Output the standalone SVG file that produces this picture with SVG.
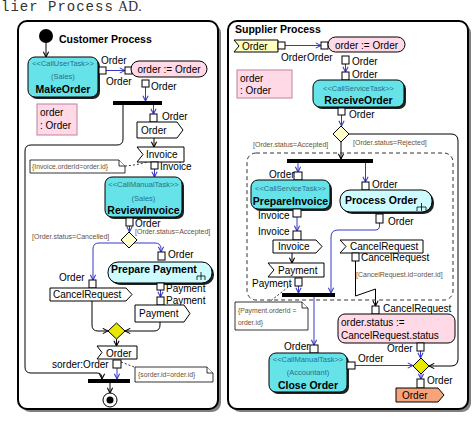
<svg xmlns="http://www.w3.org/2000/svg" width="474" height="429" viewBox="0 0 474 429">
<style>
.t{font-family:"Liberation Sans",Arial,sans-serif;font-size:10px;fill:#000}
.tb{font-family:"Liberation Sans",Arial,sans-serif;font-size:10.5px;font-weight:bold;fill:#000}
.st{font-family:"Liberation Sans",Arial,sans-serif;font-size:7.5px;fill:#2b7088}
.g{font-family:"Liberation Sans",Arial,sans-serif;font-size:7px;fill:#6a5238}
.n{font-family:"Liberation Sans",Arial,sans-serif;font-size:6.8px;fill:#6a5238}
.panel{fill:#fff;stroke:#000;stroke-width:2}
.pshadow{fill:#808080}
.ashadow{fill:#222}
.act{fill:#66e3e8;stroke:#000;stroke-width:1}
.lact{fill:#ccfcff;stroke:#000;stroke-width:1}
.pink{fill:#ffd9e6;stroke:#000;stroke-width:1}
.obj{fill:#ffd9e6;stroke:#c080a0;stroke-width:1}
.sig{fill:#fff;stroke:#000;stroke-width:1}
.pin{fill:#fff;stroke:#000;stroke-width:1}
.dec{fill:#ffffcc;stroke:#000;stroke-width:1}
.mrg{fill:#e8e800;stroke:#000;stroke-width:1}
.bar{fill:#000}
.note{fill:#fff;stroke:#000;stroke-width:0.8}
.flow{fill:none;stroke:#3838c8;stroke-width:1;marker-end:url(#ab)}
.ctl{fill:none;stroke:#000;stroke-width:1;marker-end:url(#ak)}
.dsh{fill:none;stroke:#000;stroke-width:0.8;stroke-dasharray:2,2}
.region{fill:none;stroke:#333;stroke-width:1;stroke-dasharray:4,3}
.c{text-anchor:middle}
</style>
<defs>
<marker id="ab" viewBox="0 0 8 8" refX="7" refY="4" markerWidth="7" markerHeight="7" markerUnits="userSpaceOnUse" orient="auto"><path d="M1,1 L7,4 L1,7" fill="none" stroke="#3838c8" stroke-width="1.2"/></marker>
<marker id="ak" viewBox="0 0 8 8" refX="7" refY="4" markerWidth="7" markerHeight="7" markerUnits="userSpaceOnUse" orient="auto"><path d="M1,1 L7,4 L1,7" fill="none" stroke="#000" stroke-width="1.2"/></marker>
</defs>
<rect width="474" height="429" fill="#fff"/>
<text x="1" y="11" font-family="Liberation Mono,monospace" font-size="14" letter-spacing="1" fill="#333">lier Process</text>
<text x="118" y="11" font-family="Liberation Serif,serif" font-size="14" fill="#333">AD.</text>

<g id="customer-panel">
<rect class="pshadow" x="21" y="24" width="200" height="388" rx="9"/>
<rect class="panel" x="18" y="21" width="200" height="388" rx="9"/>
<text class="tb" x="59" y="43">Customer Process</text>
</g>
<g id="supplier-panel">
<rect class="pshadow" x="231" y="24" width="240" height="388" rx="9"/>
<rect class="panel" x="228" y="21" width="240" height="388" rx="9"/>
<text class="tb" x="235" y="33">Supplier Process</text>
</g>

<g id="connectors">
<path class="ctl" d="M46,43 L46,57"/>
<path class="flow" d="M106,70.5 L125,70.5"/>
<path class="flow" d="M145.5,87 L145.5,101"/>
<path class="flow" d="M153.5,105 L153.5,114"/>
<path class="ctl" d="M154,138 L154,147"/>
<path class="flow" d="M154.5,169 L154.5,177"/>
<path class="dsh" d="M125,166 Q138,165 151,161"/>
<path class="flow" d="M129.5,226 L129.5,232"/>
<path class="flow" d="M124,243 L99,243 Q93,243 93,249 L93,280"/>
<path class="flow" d="M134,243 L155,243 Q161,243 161,249 L161,252"/>
<path class="flow" d="M160.5,290 L160.5,297"/>
<path class="ctl" d="M92,301 L92,325 Q92,331 98,331 L108,331"/>
<path class="ctl" d="M160,322 L160,325 Q160,331 154,331 L125,331"/>
<path class="ctl" d="M116.5,339 L116.5,346"/>
<path class="dsh" d="M121,362 L137,368"/>
<path class="flow" d="M117,368 L117,379"/>
<path class="ctl" d="M110,383 L110,393"/>
<path class="ctl" d="M123,105 L123,139 Q123,145 117,145 L31,145 Q25,145 25,151 L25,367 Q25,373 31,373 L97,373 Q102,373 102,378 L102,379"/>

<path class="flow" d="M285,45.5 L321,45.5"/>
<path class="flow" d="M345.5,64 L345.5,72"/>
<path class="flow" d="M341.5,115 L341.5,126"/>
<path class="ctl" d="M349,134 L451,134 Q458,134 458,141 L458,359 Q458,366 451,366 L429,366"/>
<path class="ctl" d="M341,142 L341,159"/>
<path class="flow" d="M298,163 L298,172"/>
<path class="flow" d="M365.5,163 L365.5,182"/>
<path class="flow" d="M297,217 L297,231"/>
<path class="ctl" d="M292,253 L292,263"/>
<path class="flow" d="M298.5,286 L298.5,293"/>
<path class="flow" d="M379.5,223 L379.5,226 Q379.5,230 375,230 L338,230 Q331,230 331,237 L331,293"/>
<path class="ctl" d="M355.5,261 L355.5,296 L375.5,289 L375.5,306"/>
<path class="flow" d="M314,297 L314,345"/>
<path class="flow" d="M420.5,351 L420.5,358"/>
<path class="flow" d="M355,365.5 L413,365.5"/>
<path class="flow" d="M421,374 L421,379"/>
<path class="dsh" d="M268,303 L292,284"/>
</g>

<g id="initial"><circle cx="46" cy="36" r="7" fill="#000"/></g>

<g id="make-order">
<rect class="ashadow" x="30" y="59" width="70" height="40" rx="7"/>
<rect class="act" x="28" y="57" width="70" height="40" rx="7"/>
<text class="st c" x="63" y="66">&lt;&lt;CallUserTask&gt;&gt;</text>
<text class="st c" x="63" y="79">(Sales)</text>
<text class="tb c" x="63" y="93">MakeOrder</text>
<rect class="pin" x="99" y="67" width="7" height="7"/>
<text class="t" x="101" y="64">Order</text>
<text class="t" x="106" y="85">Order</text>
</g>

<g id="assign-order-c">
<rect class="pin" x="125" y="67" width="7" height="7"/>
<rect class="pink" x="131" y="61" width="76" height="16" rx="8"/>
<text class="t c" x="169" y="73">order := Order</text>
<rect class="pin" x="142" y="80" width="7" height="7"/>
<text class="t" x="151" y="90">Order</text>
</g>

<g id="var-order-c">
<rect class="obj" x="37" y="104" width="40" height="31"/>
<text class="t" x="40" y="116">order</text>
<text class="t" x="40" y="129">: Order</text>
</g>

<g id="fork-c"><rect class="bar" x="113" y="101" width="49" height="4"/></g>

<g id="send-order">
<rect class="pin" x="150" y="114" width="7" height="8"/>
<text class="t" x="162" y="120">Order</text>
<polygon class="sig" points="137,122 177,122 183,130 177,138 137,138"/>
<text class="t" x="141" y="134">Order</text>
</g>

<g id="recv-invoice">
<polygon class="sig" points="137,147 184,147 184,162 137,162 143,154.5"/>
<text class="t" x="146" y="158">Invoice</text>
<rect class="pin" x="151" y="162" width="7" height="7"/>
<text class="t" x="160" y="170">Invoice</text>
</g>

<g id="note-invoice">
<polygon class="note" points="30,160 119,160 125,166 125,173 30,173"/>
<path class="note" d="M119,160 L119,166 L125,166" fill="none"/>
<text class="n" x="32" y="169">{Invoice.orderId=order.id}</text>
</g>

<g id="review-invoice">
<rect class="ashadow" x="107" y="179" width="77" height="40" rx="7"/>
<rect class="act" x="105" y="177" width="77" height="40" rx="7"/>
<text class="st c" x="143.5" y="187">&lt;&lt;CallManualTask&gt;&gt;</text>
<text class="st c" x="143.5" y="201">(Sales)</text>
<text class="tb c" x="143.5" y="214">ReviewInvoice</text>
<rect class="pin" x="126" y="218" width="7" height="8"/>
<text class="t" x="135" y="227">Order</text>
</g>

<g id="decision-c">
<polygon class="dec" points="129,232 137,240 129,248 121,240"/>
<text class="g" x="32" y="239">[Order.status=Cancelled]</text>
<text class="g" x="135" y="234">[Order.status=Accepted]</text>
</g>

<g id="prepare-payment">
<rect class="pin" x="158" y="252" width="7" height="8"/>
<text class="t" x="168" y="258">Order</text>
<rect class="ashadow" x="110" y="264" width="104" height="21" rx="10"/>
<rect class="lact" x="108" y="262" width="104" height="21" rx="10"/>
<text class="tb" x="111" y="273">Prepare Payment</text>
<path d="M197,276 L205,276 M201,272 L201,280 M197,276 L197,280 M205,276 L205,280" fill="none" stroke="#000" stroke-width="0.8"/>
<rect class="pin" x="157" y="283" width="7" height="7"/>
<text class="t" x="166" y="292">Payment</text>
</g>

<g id="send-payment">
<rect class="pin" x="157" y="297" width="7" height="8"/>
<text class="t" x="166" y="304">Payment</text>
<polygon class="sig" points="135,305 184,305 190,313.5 184,322 135,322"/>
<text class="t" x="139" y="317">Payment</text>
</g>

<g id="send-cancel">
<rect class="pin" x="89" y="280" width="7" height="8"/>
<text class="t" x="59" y="281">Order</text>
<polygon class="sig" points="50,288 126,288 132,294.5 126,301 50,301"/>
<text class="t" x="53" y="298">CancelRequest</text>
</g>

<g id="merge-c"><polygon class="mrg" points="116.5,323 125,331 116.5,339 108,331"/></g>

<g id="recv-order-c">
<polygon class="sig" points="97,346 137,346 137,359 97,359 102,352.5"/>
<text class="t" x="106" y="357">Order</text>
<rect class="pin" x="113" y="360" width="8" height="8"/>
<text class="t" x="52" y="368">sorder:Order</text>
</g>

<g id="note-sorder">
<polygon class="note" points="135,367 207,367 213,373 213,382 135,382"/>
<path class="note" d="M207,367 L207,373 L213,373" fill="none"/>
<text class="n" x="138" y="377">{sorder.id=order.id}</text>
</g>

<g id="join-c"><rect class="bar" x="88" y="379" width="42" height="4"/></g>

<g id="final"><circle cx="110" cy="400" r="7" fill="#fff" stroke="#000" stroke-width="1"/><circle cx="110" cy="400" r="3.5" fill="#000"/></g>

<g id="recv-order-s">
<polygon points="234,40 278,40 278,52 234,52 239,46" fill="#ffffc0" stroke="#000" stroke-width="1"/>
<text class="t" x="242" y="50">Order</text>
<rect class="pin" x="278" y="42" width="7" height="7"/>
<text class="t" x="281" y="61">Order</text>
</g>

<g id="assign-order-s">
<rect class="pin" x="321" y="42" width="7" height="7"/>
<text class="t" x="307" y="61">Order</text>
<rect class="pink" x="328" y="37" width="77" height="15" rx="7.5"/>
<text class="t c" x="366.5" y="48.5">order := Order</text>
<rect class="pin" x="342" y="56" width="7" height="8"/>
<text class="t" x="352" y="65">Order</text>
</g>

<g id="var-order-s">
<rect class="obj" x="237" y="70" width="55" height="28"/>
<text class="t" x="240" y="82">order</text>
<text class="t" x="240" y="94">: Order</text>
</g>

<g id="receive-order">
<rect class="pin" x="342" y="72" width="7" height="8"/>
<text class="t" x="352" y="78">Order</text>
<rect class="ashadow" x="315" y="82" width="91" height="27" rx="7"/>
<rect class="act" x="313" y="80" width="91" height="27" rx="7"/>
<text class="st c" x="358.5" y="91">&lt;&lt;CallServiceTask&gt;&gt;</text>
<text class="tb c" x="358.5" y="104">ReceiveOrder</text>
<rect class="pin" x="338" y="108" width="7" height="7"/>
<text class="t" x="349" y="118">Order</text>
</g>

<g id="decision-s">
<polygon class="dec" points="341,126 349,134 341,142 333,134"/>
<text class="g" x="253" y="147">[Order.status=Accepted]</text>
<text class="g" x="353" y="145">[Order.status=Rejected]</text>
</g>

<g id="interrupt-region"><rect class="region" x="247" y="153" width="206" height="147" rx="9"/></g>

<g id="fork-s"><rect class="bar" x="287" y="159" width="86" height="4"/></g>

<g id="prepare-invoice">
<rect class="pin" x="294" y="172" width="8" height="8"/>
<text class="t" x="269" y="178">Order</text>
<rect class="ashadow" x="253" y="182" width="79" height="29" rx="7"/>
<rect class="act" x="251" y="180" width="79" height="29" rx="7"/>
<text class="st c" x="290.5" y="191">&lt;&lt;CallServiceTask&gt;&gt;</text>
<text class="tb c" x="290.5" y="205">PrepareInvoice</text>
<rect class="pin" x="293" y="209" width="8" height="8"/>
<text class="t" x="258" y="219">Invoice</text>
</g>

<g id="send-invoice">
<rect class="pin" x="293" y="231" width="8" height="9"/>
<text class="t" x="258" y="235">Invoice</text>
<polygon class="sig" points="273,240 316,240 322,246.5 316,253 273,253"/>
<text class="t" x="278" y="250">Invoice</text>
</g>

<g id="recv-payment">
<polygon class="sig" points="268,263 324,263 324,277 268,277 274,270"/>
<text class="t" x="278" y="274">Payment</text>
<rect class="pin" x="295" y="278" width="7" height="8"/>
<text class="t" x="252" y="287">Payment</text>
</g>

<g id="process-order">
<rect class="pin" x="362" y="182" width="7" height="8"/>
<text class="t" x="372" y="188">Order</text>
<rect class="ashadow" x="342" y="192" width="92" height="22" rx="10"/>
<rect class="lact" x="340" y="190" width="92" height="22" rx="10"/>
<text class="tb" x="345" y="204">Process Order</text>
<path d="M417,207 L426,207 M421.5,203 L421.5,211 M417,207 L417,211 M426,207 L426,211" fill="none" stroke="#000" stroke-width="0.8"/>
<rect class="pin" x="376" y="214" width="7" height="9"/>
<text class="t" x="388" y="225">Order</text>
</g>

<g id="recv-cancel">
<polygon class="sig" points="340,240 423,240 423,253 340,253 346,246.5"/>
<text class="t" x="350" y="250">CancelRequest</text>
<rect class="pin" x="352" y="253" width="7" height="8"/>
<text class="t" x="361" y="261">CancelRequest</text>
<text class="g" x="356" y="277">[CancelRequest.id=order.id]</text>
</g>

<g id="join-s"><rect class="bar" x="282" y="293" width="53" height="4"/></g>

<g id="note-payment">
<polygon class="note" points="235,302 302,302 308,308 308,330 235,330"/>
<path class="note" d="M302,302 L302,308 L308,308" fill="none"/>
<text class="n" x="238" y="313">{Payment.orderId =</text>
<text class="n" x="238" y="325">order.id}</text>
</g>

<g id="assign-status">
<rect class="pin" x="372" y="306" width="7" height="8"/>
<text class="t" x="383" y="312">CancelRequest</text>
<rect class="pink" x="338" y="314" width="117" height="29" rx="7"/>
<text class="t" x="341" y="326">order.status :=</text>
<text class="t" x="341" y="339">CancelRequest.status</text>
<rect class="pin" x="417" y="343" width="7" height="8"/>
<text class="t" x="387" y="352">Order</text>
</g>

<g id="close-order">
<rect class="pin" x="310" y="345" width="8" height="8"/>
<text class="t" x="284" y="350">Order</text>
<rect class="ashadow" x="271" y="355" width="78" height="39" rx="7"/>
<rect class="act" x="269" y="353" width="78" height="39" rx="7"/>
<text class="st c" x="308" y="362">&lt;&lt;CallManualTask&gt;&gt;</text>
<text class="st c" x="308" y="375">(Accountant)</text>
<text class="tb c" x="308" y="389">Close Order</text>
<rect class="pin" x="347" y="362" width="8" height="7"/>
<text class="t" x="358" y="362">Order</text>
</g>

<g id="merge-s"><polygon class="mrg" points="421,358 429,366 421,374 413,366"/></g>

<g id="send-order-s">
<rect class="pin" x="417" y="379" width="7" height="9"/>
<text class="t" x="427" y="384">Order</text>
<polygon points="396,388 438,388 444,395 438,402 396,402" fill="#f7a47c" stroke="#000" stroke-width="1"/>
<text class="t" x="402" y="399">Order</text>
</g>
</svg>
